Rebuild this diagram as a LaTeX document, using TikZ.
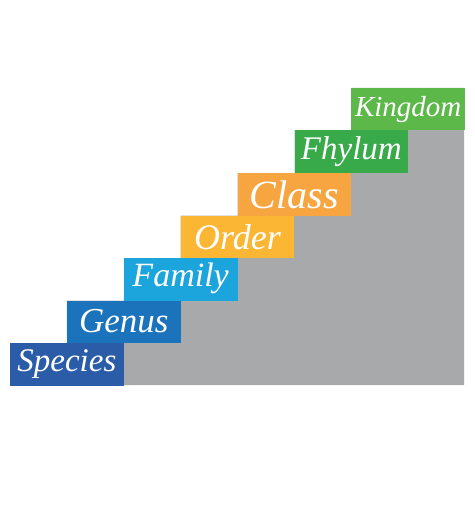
\documentclass[tikz,border=0pt]{standalone}
\usepackage{fontspec}
\newfontfamily\stepfont{Liberation Serif}
\definecolor{cSpecies}{HTML}{2A5CA8}
\definecolor{cGenus}{HTML}{1B73BC}
\definecolor{cFamily}{HTML}{1CA4DD}
\definecolor{cOrder}{HTML}{FBB634}
\definecolor{cClass}{HTML}{F6A541}
\definecolor{cPhylum}{HTML}{38AA4A}
\definecolor{cKingdom}{HTML}{5CB849}
\definecolor{cGray}{HTML}{A7A9AB}
\tikzset{
  stepbox/.style={draw=none, minimum width=113.7pt, minimum height=42.5pt, inner sep=0pt, outer sep=0pt, text=white},
  fs/.style={font=\stepfont\itshape\fontsize{#1}{#1}\selectfont},
  bl/.style={text height={20pt+#1pt}, text depth={20pt-#1pt}}
}
\begin{document}
\begin{tikzpicture}[x=1pt,y=-1pt]
\useasboundingbox (0,0) rectangle (474,505);
\fill[white] (0,0) rectangle (474,505);
\fill[cGray] (10,385) -- (464,385) -- (464,88) -- (351.4,88) -- (351.4,130.5) -- (294.5,130.5) -- (294.5,173) -- (237.6,173) -- (237.6,215.5) -- (180.7,215.5) -- (180.7,258) -- (123.8,258) -- (123.8,300.5) -- (66.9,300.5) -- (66.9,343) -- (10,343) -- cycle;
\node[stepbox, fill=cSpecies, fs=33, bl=7.4] (species) at (66.85,364.25) {Species};
\node[stepbox, fill=cGenus, fs=35, bl=11] (genus) at (123.75,321.75) {Genus};
\node[stepbox, fill=cFamily, fs=34, bl=7.4] (family) at (180.65,279.25) {Family};
\node[stepbox, fill=cOrder, fs=36, bl=12.5] (order) at (237.55,236.75) {Order};
\node[stepbox, fill=cClass, fs=40, bl=13.75] (class) at (294.45,194.25) {Class};
\node[stepbox, fill=cPhylum, fs=33, bl=8.25] (phylum) at (351.35,151.75) {Fhylum};
\node[stepbox, fill=cKingdom, fs=29, bl=7.4] (kingdom) at (408.25,109.25) {Kingdom};
\end{tikzpicture}
\end{document}
